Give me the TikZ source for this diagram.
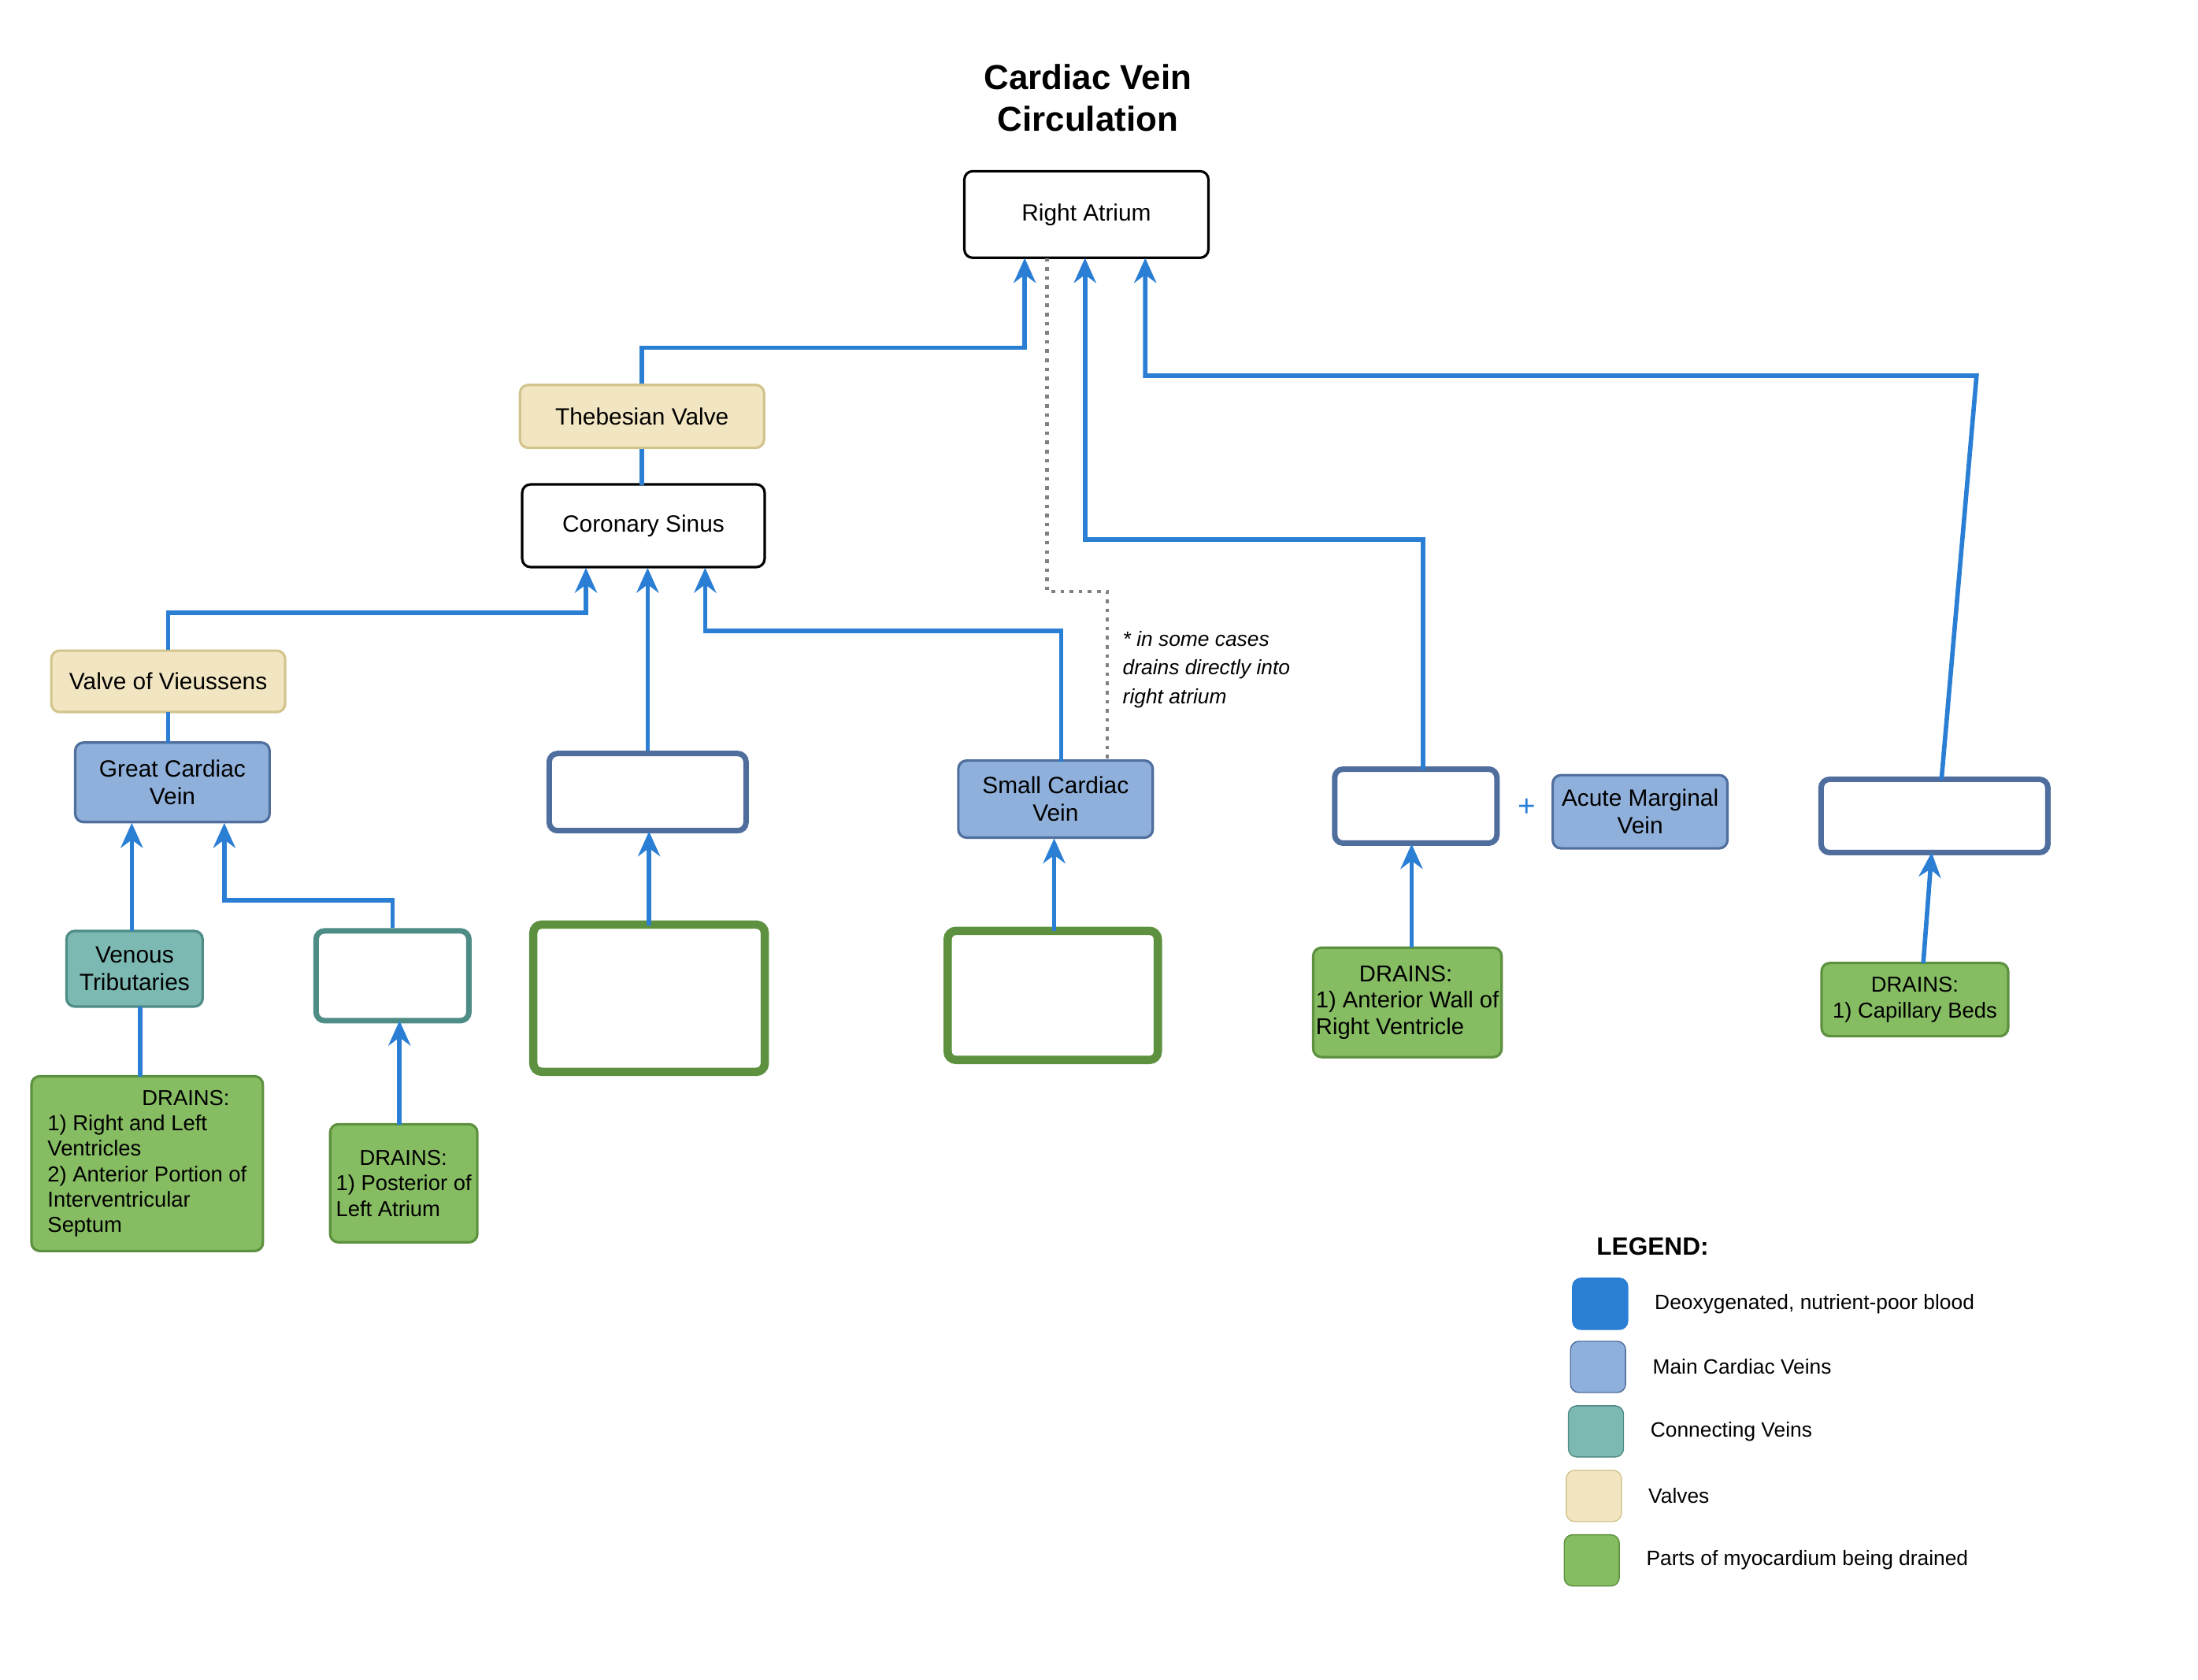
\documentclass[tikz,border=0pt]{standalone}
\usepackage{fontspec}
\setmainfont{Liberation Sans}
\usetikzlibrary{arrows.meta}
\definecolor{flow}{HTML}{2A7FD4}
\definecolor{mainv}{HTML}{8FB0DA}
\definecolor{mainvb}{HTML}{4F6E9E}
\definecolor{conn}{HTML}{7DB9B3}
\definecolor{connb}{HTML}{4E8C86}
\definecolor{valve}{HTML}{F2E6C2}
\definecolor{valveb}{HTML}{D3C48E}
\definecolor{myo}{HTML}{86BC62}
\definecolor{myob}{HTML}{5D9140}
\begin{document}
\begin{tikzpicture}[x=0.0178cm,y=-0.0178cm,
  font=\fontsize{8.5}{10}\selectfont,
  box/.style={draw=black,fill=white,rounded corners=3pt,line width=0.9pt,inner sep=1pt,align=center},
  wbox/.style={box},
  vbox/.style={box,draw=valveb,fill=valve},
  mbox/.style={box,draw=mainvb,fill=mainv},
  cbox/.style={box,draw=connb,fill=conn},
  gbox/.style={box,draw=myob,fill=myo},
  dtxt/.style={gbox,align=left,font=\fontsize{7.8}{9.2}\selectfont},
  blankm/.style={box,draw=mainvb,fill=white,line width=2pt},
  blankc/.style={box,draw=connb,fill=white,line width=2pt},
  blankg/.style={box,draw=myob,fill=white,line width=3pt},
  fl/.style={draw=flow,line width=1.6pt},
  fa/.style={fl,-{Stealth[length=9pt,width=8pt]}}
]
\useasboundingbox (0,0) rectangle (1568,1198);
\node[font=\fontsize{12.5}{15}\selectfont\bfseries,align=center] (title) at (776,70) {Cardiac Vein\\Circulation};
\node[wbox,minimum width=3.1cm,minimum height=1.1cm] (ra) at (775,153) {Right Atrium};
\node[vbox,minimum width=3.1cm,minimum height=0.8cm] (tv) at (458,297) {Thebesian Valve};
\node[wbox,minimum width=3.08cm,minimum height=1.05cm] (cs) at (459,375) {Coronary Sinus};
\node[vbox,minimum width=2.97cm,minimum height=0.78cm] (vv) at (120,486) {Valve of Vieussens};
\node[mbox,minimum width=2.47cm,minimum height=1.01cm] (gcv) at (123,558) {Great Cardiac\\Vein};
\node[blankm,minimum width=2.5cm,minimum height=0.98cm] (b2) at (462,565) {};
\node[mbox,minimum width=2.47cm,minimum height=0.98cm] (scv) at (753,570) {Small Cardiac\\Vein};
\node[blankm,minimum width=2.06cm,minimum height=0.94cm] (b4) at (1010,575) {};
\node[mbox,minimum width=2.22cm,minimum height=0.93cm] (amv) at (1170,579) {Acute Marginal\\Vein};
\node[blankm,minimum width=2.88cm,minimum height=0.93cm] (b6) at (1380,582) {};
\node[cbox,minimum width=1.73cm,minimum height=0.96cm] (vt) at (96,691) {Venous\\Tributaries};
\node[blankc,minimum width=1.94cm,minimum height=1.14cm] (bc) at (280,696) {};
\node[dtxt,minimum width=2.94cm,minimum height=2.22cm] (d1) at (105,830) {\hspace*{1.2cm}DRAINS:\\1) Right and Left\\Ventricles\\2) Anterior Portion of\\Interventricular\\Septum};
\node[dtxt,minimum width=1.87cm,minimum height=1.5cm] (d2) at (288,844) {\hspace*{0.3cm}DRAINS:\\1) Posterior of\\Left Atrium};
\node[blankg,minimum width=2.94cm,minimum height=1.87cm] (g3) at (463,712) {};
\node[blankg,minimum width=2.67cm,minimum height=1.64cm] (g4) at (751,710) {};
\node[dtxt,minimum width=2.39cm,minimum height=1.39cm,font=\fontsize{8.3}{9.6}\selectfont] (d5) at (1004,715) {\hspace*{0.55cm}DRAINS:\\1) Anterior Wall of\\Right Ventricle};
\node[gbox,minimum width=2.37cm,minimum height=0.93cm,font=\fontsize{7.8}{9.2}\selectfont] (d6) at (1366,713) {DRAINS:\\1) Capillary Beds};
\node[font=\fontsize{7.5}{10.5}\selectfont\itshape,align=left,anchor=north west] (note) at (794,443) {* in some cases\\drains directly into\\right atrium};
\node[text=flow,font=\fontsize{11}{12}\selectfont] (plus) at (1089,576) {+};
% connectors
\draw[fa] (tv.north) |- (731,248) -- (731,184);
\draw[fl] (458,320) -- (458,346);
\draw[fa] (1015,549) |- (774,385) -- (774,184);
\draw[fa] (1385,556) -- (1410,268) -- (817,268) -- (817,184);
\draw[gray,line width=1.3pt,dotted] (747,184) |- (790,422) -- (790,543);
\draw[fa] (vv.north) |- (418,437) -- (418,405);
\draw[fa] (b2.north) -- (462,405);
\draw[fa] (757,543) |- (503,450) -- (503,405);
\draw[fl] (120,508) -- (120,530);
\draw[fa] (94,664) -- (94,587);
\draw[fa] (bc.north) |- (160,642) -- (160,587);
\draw[fl] (100,718) -- (100,768);
\draw[fa] (285,802) -- (285,728);
\draw[fa] (463,660) -- (463,593);
\draw[fa] (752,664) -- (752,598);
\draw[fa] (1007,676) -- (1007,602);
\draw[fa] (1372,687) -- (1378,608);
% legend
\node[font=\fontsize{9}{11}\selectfont\bfseries,anchor=west] (lg) at (1132,889) {LEGEND:};
\foreach \c/\b/\y/\t [count=\i] in {flow/flow/930/{Deoxygenated, nutrient-poor blood},mainv/mainvb/975/{Main Cardiac Veins},conn/connb/1021/{Connecting Veins},valve/valveb/1067/{Valves},myo/myob/1113/{Parts of myocardium being drained}}{
  \node[draw=\b,fill=\c,rounded corners=3pt,minimum width=0.7cm,minimum height=0.65cm,inner sep=0pt] (s\i) at (1143-1.5*\i,\y) {};
  \node[anchor=west,font=\fontsize{7.5}{9}\selectfont] (l\i) at (1175-1.5*\i,\y) {\t};
}
\end{tikzpicture}
\end{document}
